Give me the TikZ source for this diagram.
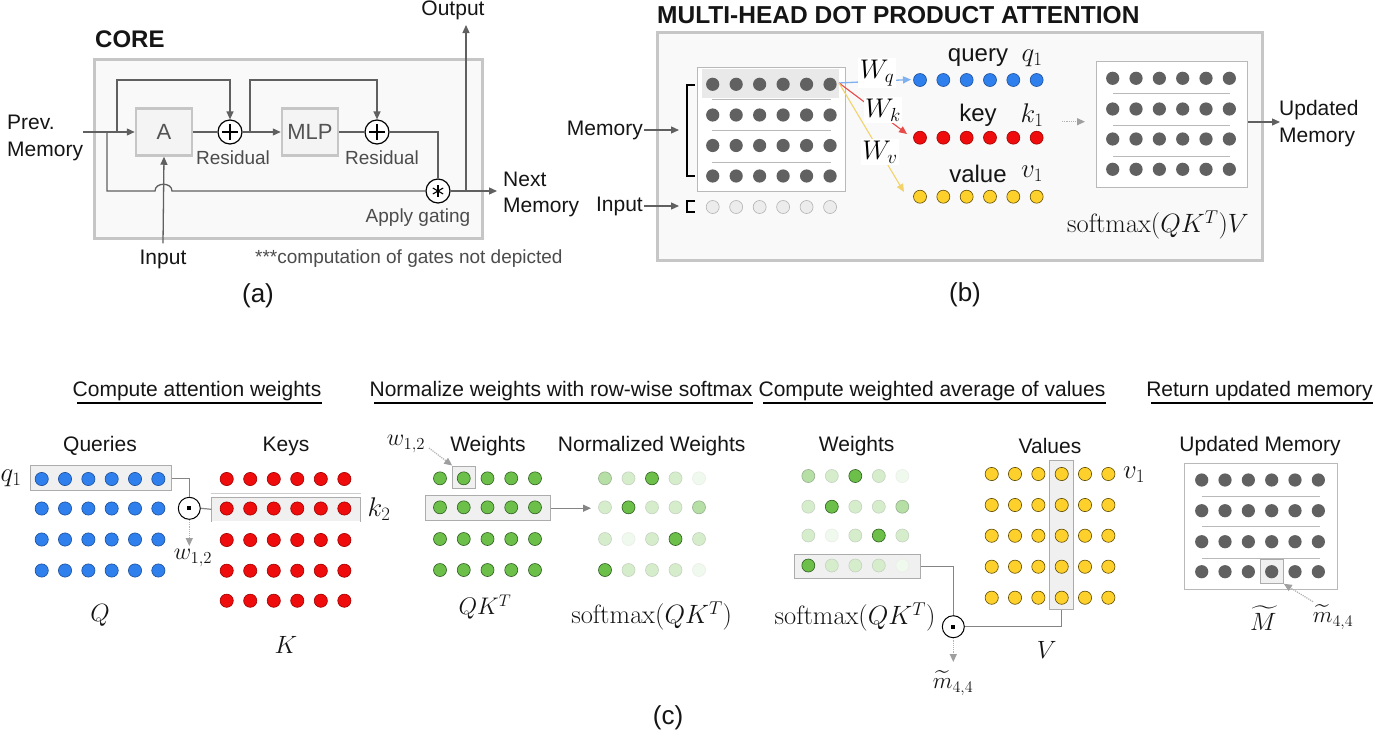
\RequirePackage{fix-cm}
\documentclass[tikz,border=0pt]{standalone}
\usepackage{amsmath}
\usepackage[no-math]{fontspec}
\setmainfont{Liberation Sans}
\usetikzlibrary{arrows.meta,calc}
\definecolor{lineg}{HTML}{606060}
\definecolor{lineh}{HTML}{858585}
\definecolor{txt}{HTML}{151515}
\definecolor{boxborder}{HTML}{C6C6C6}
\definecolor{panelfill}{HTML}{F9F9F9}
\definecolor{dotgray}{HTML}{616161}
\definecolor{qblue}{HTML}{2F80ED}
\definecolor{qblueb}{HTML}{1B4F9C}
\definecolor{kred}{HTML}{EE0C0C}
\definecolor{kredb}{HTML}{A00000}
\definecolor{vyel}{HTML}{FDD02C}
\definecolor{vyelb}{HTML}{5E4B00}
\definecolor{wgreen}{HTML}{6CC04A}
\definecolor{wgreenb}{HTML}{2E5E1E}
\definecolor{qline}{HTML}{7FB0F0}
\definecolor{kline}{HTML}{E84A4A}
\definecolor{vline}{HTML}{F2D36B}
\newcommand\myfs[1]{\fontsize{#1}{#1}\selectfont}
\newcommand\greenrow[3]{\foreach \p [count=\i from 0] in {#3} {\filldraw[fill=wgreen!\p!white, draw=wgreenb!\p!white, line width=0.6pt] ({#2+23.5*\i},#1) circle[radius=6.5pt];}}
\tikzset{
  txtnode/.style={inner sep=0pt, text=txt},
  garrow/.style={draw=lineg, line width=1.3pt, -{Triangle[length=8pt,width=7pt]}},
  gline/.style={draw=lineg, line width=1.3pt},
  hline/.style={draw=lineh, line width=1.2pt},
  harrow/.style={draw=lineh, line width=1.2pt, -{Triangle[length=8pt,width=7pt]}},
  dotarrow/.style={draw=gray!60, line width=1.2pt, densely dotted, -{Triangle[length=8pt,width=7pt,color=gray!75,fill=gray!75]}},
  opbox/.style={draw=boxborder, line width=2.5pt, fill=gray!9, minimum width=56pt, minimum height=47pt, text=gray!65!black, inner sep=0pt},
  opcirc/.style={circle, draw=black, line width=1.2pt, minimum size=24pt, inner sep=0pt, fill=white},
  odot/.style={circle, draw=black, line width=1pt, minimum size=22pt, inner sep=0pt, fill=white},
  panel/.style={draw=boxborder, line width=3pt, fill=panelfill},
  hl/.style={draw=gray!65, line width=1pt, fill=gray!12, inner sep=0pt},
  qdot/.style={fill=qblue, draw=qblueb, line width=0.6pt},
  kdot/.style={fill=kred, draw=kredb, line width=0.6pt},
  vdot/.style={fill=vyel, draw=vyelb, line width=0.6pt},
  mdot/.style={fill=dotgray},
  sep/.style={draw=gray!55, line width=0.8pt},
}
\begin{document}
\begin{tikzpicture}[x=1pt,y=-1pt]
\useasboundingbox[fill=white] (0,0) rectangle (1377,740);

% ================= (a) CORE =================
\node[txtnode, font=\bfseries\myfs{24}, anchor=west] (core) at (95,39) {CORE};
\draw[panel] (94,59) rectangle (482,238);
\node[opbox] (A) at (164,132) {\myfs{22}A};
\node[opcirc] (p1) at (230,132) {};
\node[opbox] (mlp) at (310,132) {\myfs{22}MLP};
\node[opcirc] (p2) at (377,132) {};
\node[opcirc] (gate) at (438,191) {};
\foreach \n in {p1,p2}
  \draw[line width=1.6pt] ([xshift=-8pt]\n.center) -- ([xshift=8pt]\n.center)
        ([yshift=-8pt]\n.center) -- ([yshift=8pt]\n.center);
\foreach \a in {90,30,150}
  \draw[line width=1.1pt] ($(gate.center)+(\a:6pt)$) -- ($(gate.center)-(\a:6pt)$);

\node[txtnode, font=\fontsize{21}{27}\selectfont, anchor=west, align=left] (prev) at (7,138) {Prev.\\Memory};
\coordinate (pm) at (83,132);
\coordinate (b1) at (117,132);
\coordinate (b2) at (250,132);
\coordinate (b3) at (107,132);
\draw[garrow] (pm) -- (A.west);
\draw[garrow] (b1) |- (230,80) -- (p1.north);
\draw[gline] (A.east) -- (p1.west);
\draw[garrow] (p1.east) -- (mlp.west);
\draw[garrow] (b2) |- (377,80) -- (p2.north);
\draw[gline] (mlp.east) -- (p2.west);
\draw[gline] (p2.east) -| (gate.north);
\draw[gline] (b3) -- (107,191) -- (155,191) .. controls (155,182) and (172,182) .. (172,191) -- (gate.west);
\coordinate (nm) at (497,191);
\draw[garrow] (gate.east) -- (nm);
\coordinate (ob) at (466,191);
\coordinate (ot) at (466,25);
\draw[garrow] (ob) -- (ot);
\node[txtnode, font=\myfs{21}] (inp) at (163,259) {Input};
\draw[garrow] ([yshift=6pt]inp.north) -- (A.south);

\node[txtnode, text=gray!60!black, font=\myfs{19}] (r1) at (233,158) {Residual};
\node[txtnode, text=gray!60!black, font=\myfs{19}] (r2) at (382,158) {Residual};
\node[txtnode, text=gray!60!black, font=\myfs{19}] (ag) at (418,218) {Apply gating};
\node[txtnode, font=\fontsize{21}{26}\selectfont, anchor=west, align=left] (next) at (503,194) {Next\\Memory};
\node[txtnode, font=\myfs{21}] (outl) at (453,10) {Output};
\node[txtnode, text=gray!60!black, font=\myfs{19}, anchor=west] (note) at (255,259) {***computation of gates not depicted};
\node[txtnode, font=\myfs{26}] (la) at (258,296) {(a)};

% ================= (b) MHDPA =================
\node[txtnode, font=\bfseries\myfs{24.5}, anchor=west] (mhtitle) at (657,15) {MULTI-HEAD DOT PRODUCT ATTENTION};
\draw[panel] (657,32) rectangle (1262,260);
\node[draw=gray!55, line width=1pt, fill=white, minimum width=148pt, minimum height=124pt, anchor=north west, inner sep=0pt] (mem) at (697,67) {};
\fill[gray!17] (702,69) rectangle (839,98);
\foreach \i in {0,...,5}
  \foreach \y in {84.3,115,145.5,176}
    \fill[mdot] ({712.7+23.47*\i},\y) circle[radius=6.6pt];
\foreach \y in {99.5,130,162}
  \draw[sep] (712,\y) -- (831,\y);
\foreach \i in {0,...,5}
  \filldraw[fill=gray!15, draw=gray!60, line width=0.6pt] ({712.7+23.47*\i},207) circle[radius=6.5pt];
\draw[line width=2.5pt] (695,85) -- (687,85) -- (687,176) -- (695,176);
\draw[line width=2.5pt] (695,201) -- (687,201) -- (687,212) -- (695,212);
\node[txtnode, font=\myfs{21}, anchor=east] (memlbl) at (643,130) {Memory};
\coordinate (memarr) at (679,130);
\draw[garrow] ([xshift=1pt]memlbl.east) -- (memarr);
\node[txtnode, font=\myfs{21}, anchor=east] (inlbl) at (643,206) {Input};
\coordinate (inarr) at (679,206);
\draw[garrow] ([xshift=1pt]inlbl.east) -- (inarr);

\foreach \i in {0,...,5} {
  \filldraw[qdot] ({920+23.33*\i},80) circle[radius=6.5pt];
  \filldraw[kdot] ({920+23.33*\i},137.7) circle[radius=6.5pt];
  \filldraw[vdot] ({920+23.33*\i},196.7) circle[radius=6.5pt];
}
\coordinate (src) at (839,83);
\coordinate (qt) at (911,79.5);
\coordinate (kt) at (907,134);
\coordinate (vt) at (904,192);
\draw[draw=qline, line width=1.3pt, -{Triangle[length=8pt,width=7pt]}] (src) -- (qt);
\draw[draw=kline, line width=1.1pt, -{Triangle[length=8pt,width=7pt]}] (src) -- (kt);
\draw[draw=vline, line width=1.1pt, -{Triangle[length=8pt,width=7pt]}] (src) -- (vt);
\node[fill=white, inner sep=1.5pt, font=\myfs{27}] (wq) at (877,73) {$W_q$};
\node[fill=white, inner sep=1.5pt, font=\myfs{27}] (wk) at (883,110) {$W_k$};
\node[fill=white, inner sep=1.5pt, font=\myfs{27}] (wv) at (880,152) {$W_v$};
\node[txtnode, font=\myfs{24}] (qlbl) at (978,58) {query};
\node[txtnode, font=\myfs{27}] (q1b) at (1032,58) {$q_1$};
\node[txtnode, font=\myfs{24}] (klbl) at (978,115) {key};
\node[txtnode, font=\myfs{27}] (k1b) at (1032,115) {$k_1$};
\node[txtnode, font=\myfs{24}] (vlbl) at (978,174) {value};
\node[txtnode, font=\myfs{27}] (v1b) at (1032,174) {$v_1$};
\coordinate (da1) at (1062,121.7);
\coordinate (da2) at (1085,121.7);
\draw[dotarrow] (da1) -- (da2);
\node[draw=gray!55, line width=1pt, fill=white, minimum width=151pt, minimum height=126pt, anchor=north west, inner sep=0pt] (outm) at (1096,61) {};
\foreach \i in {0,...,5}
  \foreach \y in {78.3,109,139,169.3}
    \fill[mdot] ({1112.7+23.33*\i},\y) circle[radius=6.6pt];
\foreach \y in {93.5,125,156.7}
  \draw[sep] (1113,\y) -- (1230,\y);
\coordinate (um) at (1280,122);
\draw[garrow] (outm.east |- um) -- (um);
\node[txtnode, font=\fontsize{21}{27}\selectfont, anchor=west, align=left] (updl) at (1279,124) {Updated\\Memory};
\node[txtnode, font=\myfs{26.5}] (smv) at (1158,225) {$\mathrm{softmax}(QK^T)V$};
\node[txtnode, font=\myfs{26}] (lb) at (965,295) {(b)};

% ================= (c) =================
\coordinate (ul) at (0,403);
\node[txtnode, font=\myfs{21}] (h1) at (197,391) {Compute attention weights};
\node[txtnode, font=\myfs{21}] (h2) at (561,391) {Normalize weights with row-wise softmax};
\node[txtnode, font=\myfs{21}] (h3) at (932,391) {Compute weighted average of values};
\node[txtnode, font=\myfs{21}] (h4) at (1259.5,391) {Return updated memory};
\foreach \h in {h1,h2,h3,h4}
  \draw[line width=1.2pt] ([xshift=5pt]\h.west |- ul) -- (\h.east |- ul);

% section 1
\node[txtnode, font=\myfs{21}] (quer) at (100,446) {Queries};
\node[txtnode, font=\myfs{21}] (keys) at (286,446) {Keys};
\node[hl, minimum width=141pt, minimum height=25pt] (qbox) at (101.2,478.3) {};
\foreach \i in {0,...,5}
  \foreach \y in {479,508.5,539.5,570.5}
    \filldraw[qdot] ({41.7+23.33*\i},\y) circle[radius=6.6pt];
\node[txtnode, font=\myfs{27}] (q1c) at (11,478) {$q_1$};
\draw[draw=gray!40, line width=0.8pt] (210.7,493.3) -- (360.7,493.3);
\node[fill=gray!12, inner sep=0pt, minimum width=148.3pt, minimum height=24pt] (kbox) at (285.8,509.3) {};
\draw[draw=gray!65, line width=1pt] (kbox.south west) -- (kbox.north west) -- (kbox.north east) -- (kbox.south east);
\foreach \i in {0,...,5}
  \foreach \y in {479,508.5,540,570.7,600.7}
    \filldraw[kdot] ({226.7+23.53*\i},\y) circle[radius=6.6pt];
\node[txtnode, font=\myfs{27}] (k2c) at (379,509) {$k_2$};
\node[odot] (od1) at (189.3,508.3) {};
\fill (od1.center) ++(-2pt,-2pt) rectangle ++(4pt,4pt);
\draw[hline] (qbox.east) -| (od1.north);
\draw[hline] (od1.east) -- (kbox.west);
\coordinate (w12a) at (189.3,546);
\draw[dotarrow] (od1.south) -- (w12a);
\node[txtnode, font=\myfs{24}] (w12) at (193,558) {$w_{1,2}$};
\node[txtnode, font=\myfs{25}] (Qc) at (100,615) {$Q$};
\node[txtnode, font=\myfs{25}] (Kc) at (286,645) {$K$};

% section 2
\node[txtnode, font=\myfs{21}] (wts) at (488,446) {Weights};
\node[txtnode, font=\myfs{24}] (w12b) at (406,444) {$w_{1,2}$};
\node[hl, minimum width=23pt, minimum height=22.3pt] (cellb) at (464.2,477.2) {};
\node[hl, minimum width=124.7pt, minimum height=25pt] (rowb) at (488.3,508.2) {};
\foreach \i in {0,...,4}
  \foreach \y in {478.3,507.3,539,570}
    \filldraw[fill=wgreen, draw=wgreenb, line width=0.6pt] ({440+23.75*\i},\y) circle[radius=6.5pt];
\coordinate (w12s) at (429,448);
\draw[dotarrow] (w12s) -- (cellb.north west);
\coordinate (narr) at (591,507.3);
\draw[harrow] (rowb.east) -- (narr |- rowb.east);
\node[txtnode, font=\myfs{21}] (nw) at (651.7,446) {Normalized Weights};
\greenrow{478.3}{605}{50,28,100,28,10}
\greenrow{507.3}{605}{28,100,28,28,50}
\greenrow{539}{605}{28,10,28,100,28}
\greenrow{570}{605}{100,28,28,28,10}
\node[txtnode, font=\myfs{24}] (qkt) at (485,607) {$QK^T$};
\node[txtnode, font=\myfs{26.5}] (smx) at (651.7,616) {$\mathrm{softmax}(QK^T)$};

% section 3
\node[txtnode, font=\myfs{21}] (wts3) at (856.7,446) {Weights};
\node[hl, minimum width=125.7pt, minimum height=24pt] (w4box) at (857.8,566.3) {};
\greenrow{476}{808.3}{50,28,100,28,10}
\greenrow{506.7}{808.3}{28,100,28,28,50}
\greenrow{535.5}{808.3}{28,10,28,100,28}
\greenrow{565.5}{808.3}{100,28,28,28,10}
\node[txtnode, font=\myfs{21}] (vals) at (1050,446) {Values};
\node[hl, minimum width=24pt, minimum height=149.3pt] (vbox) at (1061.3,534.7) {};
\foreach \i in {0,...,5}
  \foreach \y in {474,505,535.7,566.7,597.7}
    \filldraw[vdot] ({991.7+23.33*\i},\y) circle[radius=6.6pt];
\node[odot] (od2) at (953.3,626.7) {};
\fill (od2.center) ++(-2pt,-2pt) rectangle ++(4pt,4pt);
\draw[hline] (w4box.east) -| (od2.north);
\draw[hline] (vbox.south) |- (od2.east);
\coordinate (m44a) at (953.3,662);
\draw[dotarrow] (od2.south) -- (m44a);
\node[txtnode, font=\myfs{23}] (m44) at (953,683) {$\widetilde{m}_{4,4}$};
\node[txtnode, font=\myfs{26.5}] (smx3) at (855,617) {$\mathrm{softmax}(QK^T)$};
\node[txtnode, font=\myfs{25}] (Vc) at (1046.7,650) {$V$};
\node[txtnode, font=\myfs{27}] (v1c) at (1134,475) {$v_1$};

% section 4
\node[txtnode, font=\myfs{21}] (updm) at (1260,446) {Updated Memory};
\node[draw=gray!55, line width=1pt, fill=white, minimum width=152.4pt, minimum height=126pt, anchor=north west, inner sep=0pt] (umbox) at (1184.3,463.3) {};
\node[hl, minimum width=22.6pt, minimum height=24pt] (cell44) at (1272,571.3) {};
\foreach \i in {0,...,5}
  \foreach \y in {480,510.7,541.7,571.7}
    \fill[mdot] ({1201.7+23.33*\i},\y) circle[radius=6.6pt];
\foreach \y in {496,526.7,558.3}
  \draw[sep] (1201.7,\y) -- (1320,\y);
\node[txtnode, font=\myfs{25}] (Mt) at (1263.3,618) {$\widetilde{M}$};
\node[txtnode, font=\myfs{23}] (m44b) at (1333,617) {$\widetilde{m}_{4,4}$};
\coordinate (m44s) at (1313,601.7);
\draw[dotarrow] (m44s) -- (cell44.south east);
\node[txtnode, font=\myfs{26}] (lc) at (668,718) {(c)};
\end{tikzpicture}
\end{document}
